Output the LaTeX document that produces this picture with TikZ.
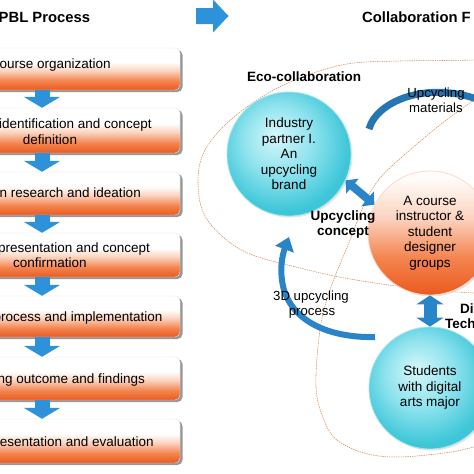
\documentclass[tikz,border=0pt]{standalone}
\usepackage{fontspec}
\setmainfont{Liberation Sans}
\usetikzlibrary{arrows.meta,shadows,calc}

\definecolor{blueA}{HTML}{2E92DA}
\definecolor{blueB}{HTML}{2A84C8}
\definecolor{blueC}{HTML}{2676B4}
\definecolor{orD}{HTML}{EA5A1E}
\definecolor{orM}{HTML}{F4844F}
\definecolor{orL}{HTML}{FBD3BF}
\definecolor{cyI}{HTML}{D6F7FA}
\definecolor{cyM}{HTML}{8FE3EE}
\definecolor{cyO}{HTML}{3CC6D8}
\definecolor{dashc}{HTML}{D98C55}

\pgfdeclareverticalshading{boxshade}{100bp}{color(0bp)=(orD); color(25bp)=(orD); color(36bp)=(orM); color(48bp)=(orL); color(58bp)=(white); color(100bp)=(white)}
\pgfdeclareverticalshading{ballshade}{100bp}{color(0bp)=(orD); color(25bp)=(orD); color(40bp)=(orM); color(56bp)=(orL); color(72bp)=(white!92!orL); color(100bp)=(white)}
\pgfdeclareradialshading{cyshade}{\pgfpoint{-6bp}{8bp}}{color(0bp)=(cyI); color(14bp)=(cyM); color(27bp)=(cyO); color(50bp)=(cyO)}

\tikzset{
  stepbox/.style={rectangle, rounded corners=5pt, minimum width=260pt, inner sep=0pt,
    shading=boxshade, draw=black!10, line width=0.4pt,
    drop shadow={shadow xshift=2.5pt, shadow yshift=-2pt, fill=black!80, opacity=0.5}},
  boxtext/.style={inner sep=0pt, font=\fontsize{13.5}{16}\selectfont},
  titletext/.style={inner sep=0pt, font=\fontsize{14.8}{18}\selectfont\bfseries},
  boldtext/.style={inner sep=0pt, font=\fontsize{13.5}{16}\selectfont\bfseries},
  plaintext/.style={inner sep=0pt, font=\fontsize{13.2}{16}\selectfont},
  blockarrow/.style={blueA, line width=15pt, -{Triangle[width=36pt,length=11pt]}},
  cyanball/.style={circle, minimum size=124pt, inner sep=0pt, shading=cyshade,
    draw=white!55!cyO, line width=0.8pt,
    drop shadow={shadow xshift=1.5pt, shadow yshift=-1.5pt, opacity=0.2},
    align=center, font=\fontsize{13.5}{15.5}\selectfont},
  orangeball/.style={circle, minimum size=124pt, inner sep=0pt, shading=ballshade,
    draw=white!70!orM, line width=0.8pt,
    drop shadow={shadow xshift=1.5pt, shadow yshift=-1.5pt, opacity=0.2},
    align=center, font=\fontsize{13.5}{15.5}\selectfont},
  dashline/.style={dashc, line width=0.55pt, dash pattern=on 1.4pt off 0.9pt},
  dblarrow/.style={blueB, line width=8pt, {Triangle[width=19pt,length=9pt]}-{Triangle[width=19pt,length=9pt]}},
  vdblarrow/.style={blueB, line width=13pt, {Triangle[width=27pt,length=9pt]}-{Triangle[width=27pt,length=9pt]}},
}

\begin{document}
\begin{tikzpicture}[x=1pt,y=-1pt]
\useasboundingbox (0,0) rectangle (474,474);
\clip (0,0) rectangle (474,474);
\fill[white] (0,0) rectangle (474,474);

% ---- titles
\node[titletext, anchor=base west] (t1) at (-1.5,22) {PBL Process};
\node[titletext, anchor=base west] (t2) at (362,22) {Collaboration F};
\fill[blueA] (196,8) -- (213,8) -- (213,-0.5) -- (228.5,16) -- (213,32.5) -- (213,24) -- (196,24) -- cycle;

% ---- left process boxes
\node[stepbox, minimum height=42pt] (b1) at (50,69) {};
\node[stepbox, minimum height=45pt] (b2) at (50,130.5) {};
\node[stepbox, minimum height=43pt] (b3) at (50,193.5) {};
\node[stepbox, minimum height=44pt] (b4) at (50,255) {};
\node[stepbox, minimum height=41pt] (b5) at (50,316.5) {};
\node[stepbox, minimum height=43pt] (b6) at (50,378.5) {};
\node[stepbox, minimum height=44pt] (b7) at (50,441) {};

\draw[blockarrow] ($(b1.south)+(-8,0)$) -- ($(b2.north)+(-8,0)$);
\draw[blockarrow] ($(b2.south)+(-8,0)$) -- ($(b3.north)+(-8,0)$);
\draw[blockarrow] ($(b3.south)+(-8,0)$) -- ($(b4.north)+(-8,0)$);
\draw[blockarrow] ($(b4.south)+(-8,0)$) -- ($(b5.north)+(-8,0)$);
\draw[blockarrow] ($(b5.south)+(-8,0)$) -- ($(b6.north)+(-8,0)$);
\draw[blockarrow] ($(b6.south)+(-8,0)$) -- ($(b7.north)+(-8,0)$);

\node[boxtext, anchor=base west] (l1) at (-0.5,68.5) {ourse organization};
\node[boxtext, anchor=base west] (l2a) at (-1,128) {identification and concept};
\node[boxtext, anchor=base] (l2b) at (50,144) {definition};
\node[boxtext, anchor=base west] (l3) at (-0.5,197) {n research and ideation};
\node[boxtext, anchor=base west] (l4a) at (-2,252) {presentation and concept};
\node[boxtext, anchor=base] (l4b) at (50,267.5) {confirmation};
\node[boxtext, anchor=base west] (l5) at (-6.5,321) {process and implementation};
\node[boxtext, anchor=base west] (l6) at (-2.5,383) {ng outcome and findings};
\node[boxtext, anchor=base west] (l7) at (-0.3,446) {esentation and evaluation};

% ---- dashed orbits
\draw[dashline] plot[smooth, tension=0.6] coordinates {(560,56) (474,60) (400,61) (347,64) (300,78) (260,98) (225,125) (204,152) (198,180) (203,212) (222,236) (250,254) (300,268) (350,279) (420,289) (474,293) (560,297)};
\draw[dashline] plot[smooth, tension=0.6] coordinates {(530,64) (474,100) (440,125) (410,150) (380,178) (364,205) (350,240) (330,290) (320,330) (316,387) (324,420) (337,440) (364,453) (397,457) (444,453) (474,447) (530,432)};

% ---- upcycling materials arc
\coordinate (m1) at (369,129);
\coordinate (m2) at (482,101);
\draw[blueC, line width=7pt] (m1) .. controls (377,100) and (430,80) .. (m2);

% ---- circles
\node[cyanball] (c1) at (289,154) {Industry\\partner I.\\An\\upcycling\\brand};
\node[orangeball] (c2) at (430,233) {A course\\instructor \&\\student\\designer\\groups};
\node[cyanball, minimum size=122pt] (c3) at (430,388) {Students\\with digital\\arts major};

% ---- connectors between circles
\draw[dblarrow] (c1.-25) -- (c2.153);
\draw[vdblarrow] (c2.south) -- (c3.north);

\coordinate (p1) at (375,337);
\coordinate (p2) at (289,237);
\draw[blueB, line width=6pt, -{Triangle[width=19pt,length=13pt]}] (p1) .. controls (335,338) and (295,325) .. (284,290) .. controls (279,272) and (282,256) .. (p2);

% ---- labels
\node[boldtext, anchor=base west] (eco) at (247,81) {Eco-collaboration};
\node[boldtext, anchor=base] (uc1) at (343,220) {Upcycling};
\node[boldtext, anchor=base] (uc2) at (343,235) {concept};
\node[plaintext, anchor=base] (um1) at (436,97) {Upcycling};
\node[plaintext, anchor=base] (um2) at (436,112) {materials};
\node[plaintext, anchor=base] (pr1) at (311,300) {3D upcycling};
\node[plaintext, anchor=base] (pr2) at (312,315) {process};
\node[boldtext, anchor=base west] (dt1) at (460,313) {Di};
\node[boldtext, anchor=base west] (dt2) at (445,328) {Tech};
\end{tikzpicture}
\end{document}
